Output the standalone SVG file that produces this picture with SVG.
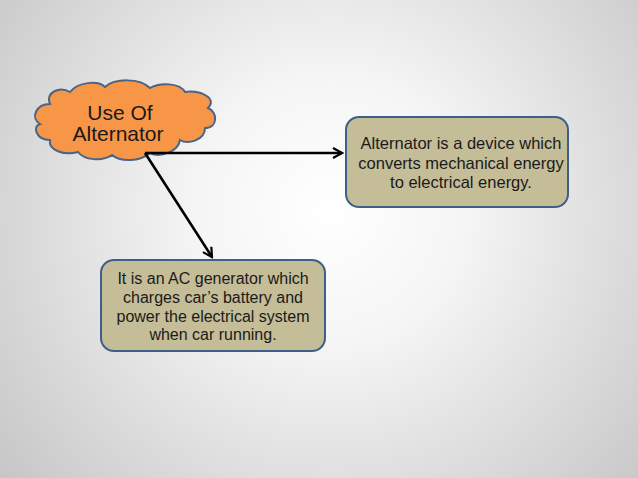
<svg xmlns="http://www.w3.org/2000/svg" width="638" height="478" viewBox="0 0 638 478">
<defs>
<radialGradient id="bg" cx="330" cy="210" r="450" gradientUnits="userSpaceOnUse">
<stop offset="0" stop-color="#ffffff"/>
<stop offset="0.3" stop-color="#f5f5f5"/>
<stop offset="1" stop-color="#c2c2c2"/>
</radialGradient>
<marker id="arr" viewBox="0 0 12 12" refX="10" refY="6" markerWidth="12" markerHeight="12" markerUnits="userSpaceOnUse" orient="auto">
<path d="M1,1 L10,6 L1,11" fill="none" stroke="#000" stroke-width="2.2"/>
</marker>
<style>
.box{fill:#c4bd97;stroke:#3e5f86;stroke-width:2}
.t{font-family:"Liberation Sans",Arial,sans-serif;font-size:16.5px;fill:#1a1a1a;text-anchor:middle}
.t2{font-family:"Liberation Sans",Arial,sans-serif;font-size:16px;fill:#1a1a1a;text-anchor:middle}
.ct{font-family:"Liberation Sans",Arial,sans-serif;font-size:21px;fill:#1a1a1a;text-anchor:middle}
.con{stroke:#000;stroke-width:2.6;fill:none;marker-end:url(#arr)}
</style>
</defs>
<rect width="638" height="478" fill="url(#bg)"/>
<g id="cloud">
<path d="M50,104 C45,92 60,86 70,92 C78,82 98,80 105,87 C115,78 140,78 150,88 C160,82 180,83 185,92 C200,90 218,98 208,108 C218,112 218,128 205,128 C205,140 188,145 180,140 C178,152 160,158 150,153 C140,162 120,162 112,155 C102,162 84,160 78,152 C64,156 48,150 50,140 C36,140 32,126 40,124 C30,118 36,104 50,104 Z" fill="#f79646" stroke="#4a6486" stroke-width="2"/>
<text class="ct" x="120" y="120">Use Of</text>
<text class="ct" x="118" y="141">Alternator</text>
</g>
<g id="connectors">
<line class="con" x1="145" y1="153" x2="342" y2="153"/>
<line class="con" x1="145" y1="153" x2="212" y2="257"/>
</g>
<g id="box1">
<rect class="box" x="346" y="117" width="222" height="90" rx="13"/>
<text class="t" x="461" y="149">Alternator is a device which</text>
<text class="t" x="461" y="169">converts mechanical energy</text>
<text class="t" x="461" y="188">to electrical energy.</text>
</g>
<g id="box2">
<rect class="box" x="101" y="260" width="224" height="91" rx="13"/>
<text class="t2" x="213" y="284">It is an AC generator which</text>
<text class="t2" x="213" y="303">charges car’s battery and</text>
<text class="t2" x="213" y="322">power the electrical system</text>
<text class="t2" x="213" y="340">when car running.</text>
</g>
</svg>
